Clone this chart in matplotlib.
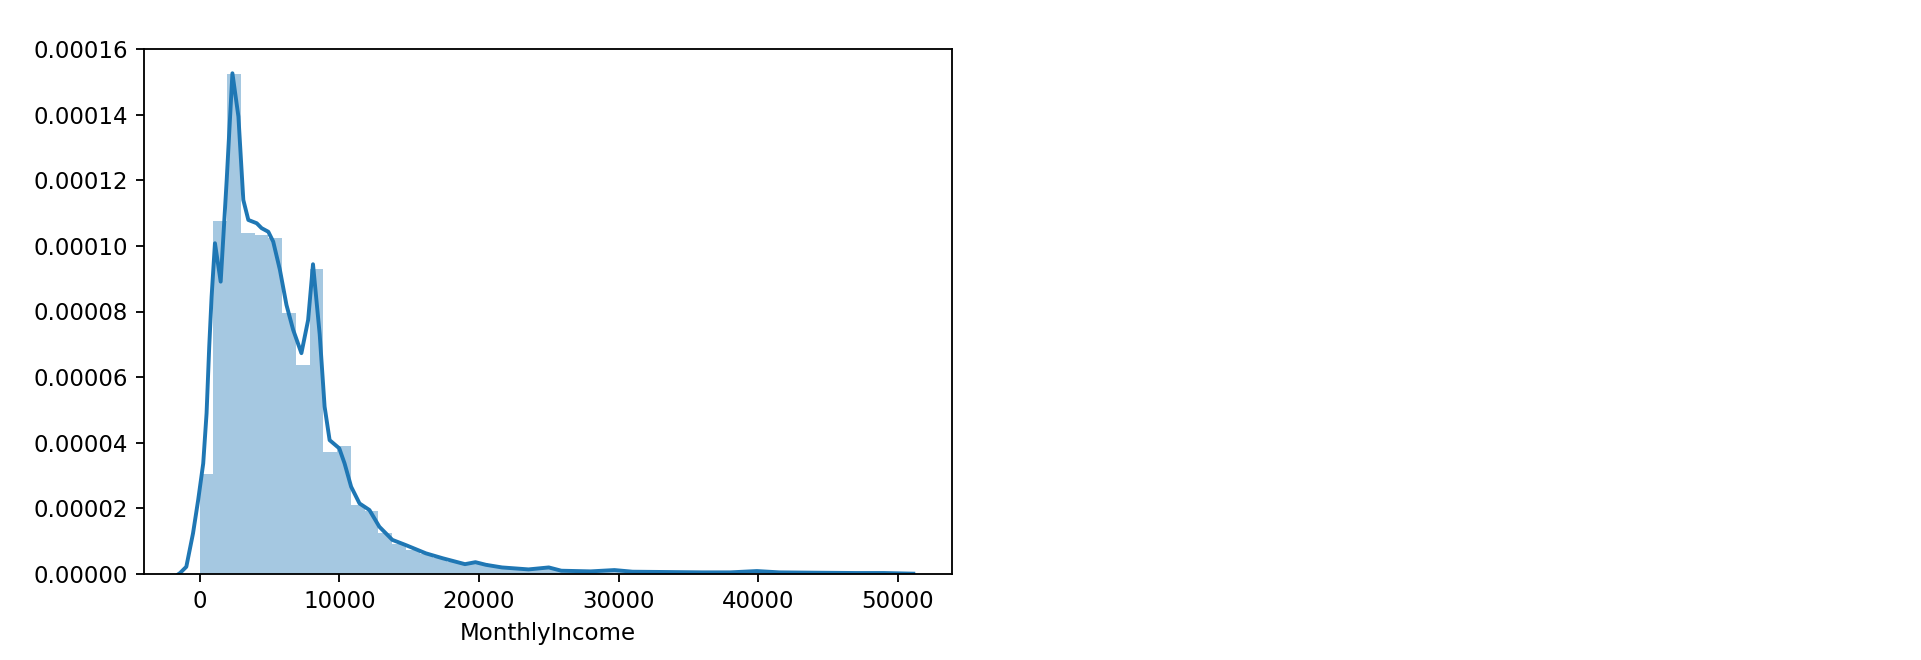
import numpy as np
import matplotlib
matplotlib.use("Agg")
import matplotlib.pyplot as plt

# histogram: 50 bins over the MonthlyIncome range, density heights (x 1e-5)
hist_lo = 0
hist_hi = 49250
n_bins = 50
hist_density = np.array([
    3.05, 10.75, 15.24, 10.39, 10.32, 10.23, 7.94, 6.36, 9.29, 3.73,
    3.91, 2.10, 1.93, 1.24, 0.92, 0.72, 0.60, 0.48, 0.38, 0.32,
    0.33, 0.22, 0.16, 0.14, 0.16, 0.19, 0.09, 0.07, 0.07, 0.08,
    0.10, 0.07, 0.06, 0.06, 0.05, 0.05, 0.05, 0.04, 0.05, 0.05,
    0.08, 0.05, 0.04, 0.04, 0.04, 0.03, 0.03, 0.03, 0.03, 0.03,
]) * 1e-5

# kde curve (x in thousands, y x 1e-5)
kde_x = np.array([
    -1.5, -1.4, -0.95, -0.47, -0.1, 0.26, 0.5, 0.69, 0.86, 1.1,
    1.51, 1.94, 2.35, 2.78, 3.13, 3.49, 4.09, 4.44, 4.92,
    5.27, 5.75, 6.22, 6.7, 7.29, 7.77, 8.12, 8.6, 8.95, 9.31,
    10.0, 10.38, 10.85, 11.45, 12.16, 12.87, 13.8, 14.77, 16.2, 17.4,
    19.0, 19.75, 20.5, 21.65, 23.55, 25.0, 25.9, 28.0, 29.7, 31.0,
    33.5, 36.0, 38.0, 39.9, 41.5, 44.0, 47.0, 49.0, 51.1,
]) * 1000
kde_y = np.array([
    0.0, 0.03, 0.22, 1.24, 2.26, 3.37, 4.9, 6.93, 8.45, 10.08,
    8.91, 12.0, 15.26, 13.94, 11.40, 10.79, 10.69, 10.54, 10.43,
    10.13, 9.27, 8.2, 7.44, 6.73, 7.74, 9.44, 7.3, 5.1, 4.08,
    3.83, 3.37, 2.66, 2.15, 1.95, 1.44, 1.04, 0.88, 0.63, 0.48,
    0.30, 0.36, 0.28, 0.20, 0.14, 0.20, 0.10, 0.08, 0.12, 0.07,
    0.06, 0.05, 0.05, 0.09, 0.05, 0.04, 0.03, 0.03, 0.01,
]) * 1e-5

x_label = "MonthlyIncome"

fig = plt.figure(figsize=(1921 / 165, 660 / 165), dpi=165)
ax = fig.add_axes([144 / 1921, 86 / 660, 808 / 1921, 525 / 660])

edges = np.linspace(hist_lo, hist_hi, n_bins + 1)
ax.bar(edges[:-1], hist_density, width=np.diff(edges), align="edge",
       color="#1f77b4", alpha=0.4, linewidth=0)
ax.plot(kde_x, kde_y, color="#1f77b4", linewidth=1.7)

ax.set_xlim(-3980, 53870)
ax.set_ylim(0, 0.00016)
ax.set_yticks(np.arange(0, 0.000161, 0.00002))
ax.set_yticklabels([f"{v:.5f}" for v in ax.get_yticks()])
ax.set_xticks([0, 10000, 20000, 30000, 40000, 50000])
ax.set_xlabel(x_label)

fig.savefig("out.png", dpi=165)
